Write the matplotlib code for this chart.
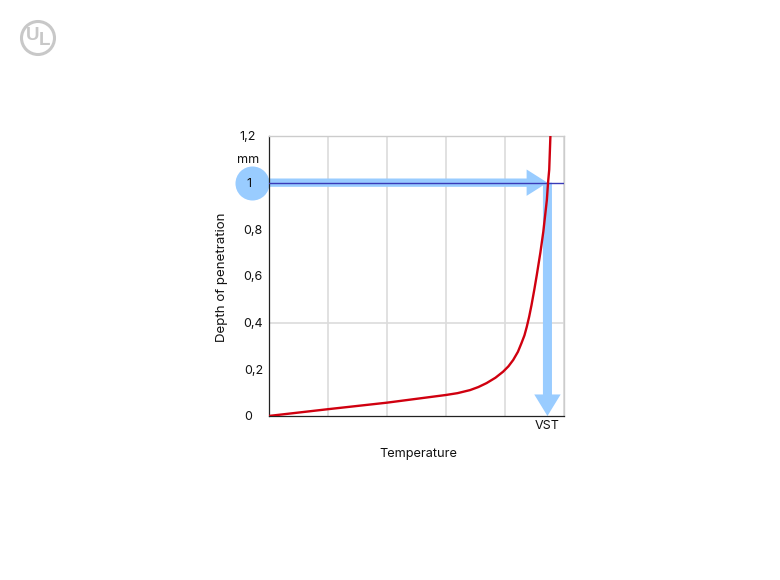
import matplotlib
matplotlib.use('Agg')
import matplotlib.pyplot as plt
from matplotlib.patches import Circle
from matplotlib.transforms import IdentityTransform, ScaledTranslation

plt.rcParams['font.family'] = ['Inter', 'DejaVu Sans']

# values
temp = [0, 1.0, 2.0, 3.0, 3.2, 3.41, 3.55, 3.69, 3.84, 3.97, 4.06, 4.14, 4.22, 4.28, 4.33, 4.37, 4.41, 4.45, 4.5, 4.54, 4.6, 4.65, 4.71, 4.73, 4.75, 4.77]
depth = [0, 0.029, 0.057, 0.09, 0.098, 0.111, 0.124, 0.141, 0.164, 0.19, 0.213, 0.24, 0.275, 0.312, 0.345, 0.382, 0.425, 0.475, 0.545, 0.605, 0.70, 0.79, 0.926, 1.0, 1.056, 1.2]
y_ticks = [0, 0.2, 0.4, 0.6, 0.8, 1.0, 1.2]
y_labels = ['0', '0,2', '0,4', '0,6', '0,8', '1', '1,2']
x_grid = [1, 2, 3, 4, 5]
vst = 4.72
target = 1.0

RED = '#d0000f'
LIGHT = '#99ccff'
DARK = '#3a3ab8'
GRID = '#dcdcdc'
TXT = '#111111'

fig = plt.figure(figsize=(7.8, 5.8), dpi=100)
ax = fig.add_axes([268.5 / 780, (580 - 416) / 580, 295.5 / 780, 280 / 580])
ax.set_xlim(0, 5)
ax.set_ylim(0, 1.2)

ax.set_xticks(x_grid)
ax.set_xticklabels([])
ax.set_xticks([vst], ['VST'], minor=True)
ax.set_yticks(y_ticks, y_labels)
ax.tick_params(axis='both', which='both', length=0, labelsize=9, colors=TXT)
ax.tick_params(axis='y', pad=4)
ax.tick_params(axis='x', which='minor', pad=3)
ax.grid(axis='x', color=GRID, lw=1.2)
ax.axhline(0.4, color=GRID, lw=1.2, zorder=0.5)
ax.set_axisbelow(True)

for s in ['top', 'right']:
    ax.spines[s].set_color('#cccccc')
    ax.spines[s].set_linewidth(1)
for s in ['left', 'bottom']:
    ax.spines[s].set_color('#222222')
    ax.spines[s].set_linewidth(0.9)

# the short labels sit further left than the others
for lab, txt in zip(ax.get_yticklabels(), y_labels):
    dx = {'0': -11, '1': -11, '1,2': -7}.get(txt, 0) / 100
    lab.set_transform(lab.get_transform() + ScaledTranslation(dx, 0, fig.dpi_scale_trans))

ax.annotate('', xy=(vst, target), xytext=(0, target), zorder=2,
            arrowprops=dict(arrowstyle='simple,head_length=15,head_width=19,tail_width=6',
                            mutation_scale=1, color=LIGHT, lw=0, shrinkA=0, shrinkB=0))
ax.annotate('', xy=(vst, 0), xytext=(vst, target), zorder=2,
            arrowprops=dict(arrowstyle='simple,head_length=15.5,head_width=19,tail_width=6.5',
                            mutation_scale=1, color=LIGHT, lw=0, shrinkA=0, shrinkB=0))
ax.axhline(target, color=DARK, lw=1, zorder=3)
ax.plot(temp, depth, color=RED, lw=1.7, zorder=4, solid_capstyle='butt')

# circle goes under the axis so the "1" label stays on top
ax.plot([-0.28], [target], 'o', ms=24.5, color=LIGHT, mew=0, clip_on=False, zorder=0.2)
ax.text(-0.345, 1.098, 'mm', ha='center', va='center', fontsize=9, color=TXT)

ax.set_ylabel('Depth of penetration', fontsize=9.6, color=TXT)
ax.yaxis.set_label_coords(-0.138, 0.495)
ax.set_xlabel('Temperature', fontsize=9.2, color=TXT)
ax.xaxis.set_label_coords(0.508, -0.115)

# logo top left
logo = '#c8c8c8'
fig.add_artist(Circle((38, 542), 16.5, transform=IdentityTransform(), fill=False, ec=logo, lw=2.2))
fig.text(33 / 780, 1 - 35 / 580, 'U', ha='center', va='center', fontsize=13.5, fontweight='bold',
         color=logo, family=['Liberation Sans Narrow', 'Liberation Sans'])
fig.text(44 / 780, 1 - 40.5 / 580, 'L', ha='center', va='center', fontsize=13.5, fontweight='bold',
         color=logo, family=['Liberation Sans Narrow', 'Liberation Sans'])

fig.savefig('out.png', dpi=100)
